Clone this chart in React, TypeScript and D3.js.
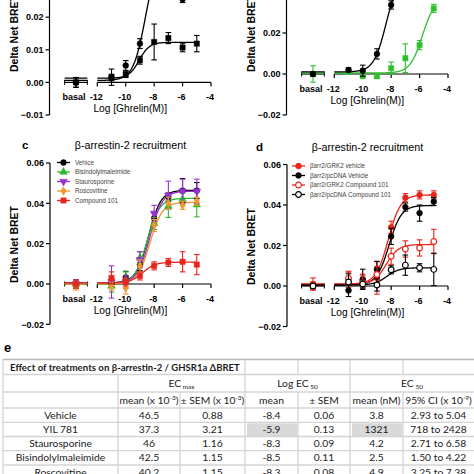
import { useEffect, useRef } from "react";
import * as d3 from "d3";

// ---- shared x values ----
const logDoses = [-11, -10, -9, -8, -7, -6, -5];
const BASAL = -13.5;
const xTicks = [-12, -10, -8, -6, -4];

// ---- panel a ----
const aCircleMean = [0.0015, 0.0052, 0.0119, 0.031, 0.036, 0.0255, 0.034];
const aCircleSem = [0.001, 0.0015, 0.0015, 0.003, 0.003, 0.001, 0.003];
const aSquareMean = [0.0016, 0.0025, 0.0068, 0.0124, 0.0136, 0.0107, 0.0119];
const aSquareSem = [0.0025, 0.001, 0.0012, 0.0055, 0.0017, 0.0013, 0.0025];
const aYTicks = [-0.01, 0, 0.01, 0.02];

// ---- panel b ----
const bBlackMean = [0.002, 0.0016, 0.0098, 0.0337, 0.045, 0.048, 0.047];
const bBlackSem = [0.001, 0.0027, 0.0025, 0.002, 0.003, 0.003, 0.003];
const bGreenMean = [0.001, -0.001, -0.001, 0.0028, 0.0077, 0.0141, 0.032];
const bGreenSem = [0.001, 0.001, 0.0012, 0.003, 0.007, 0.0022, 0.002];
const bYTicks = [-0.02, 0, 0.02];
const cdYTicks = [-0.02, 0, 0.02, 0.04, 0.06];

// ---- panel c ----
const cNames = [ "Vehice", "Bisindolylmaleimide", "Staurosporine", "Roscovitine", "Compound 101" ];
const cVehicleMean = [0.0005, 0.0033, 0.0096, 0.0327, 0.0431, 0.0463, 0.0463];
const cVehicleSem = [0.002, 0.003, 0.003, 0.003, 0.002, 0.006, 0.004];
const cBisMean = [-0.001, 0.002, 0.013, 0.03, 0.0385, 0.042, 0.0393];
const cBisSem = [0.003, 0.004, 0.003, 0.003, 0.0055, 0.003, 0.006];
const cStauroMean = [0.001, 0.001, 0.012, 0.035, 0.044, 0.046, 0.046];
const cStauroSem = [0.008, 0.003, 0.004, 0.004, 0.007, 0.006, 0.006];
const cRoscoMean = [-0.001, -0.002, 0.009, 0.029, 0.04, 0.039, 0.041];
const cRoscoSem = [0.002, 0.003, 0.003, 0.003, 0.003, 0.002, 0.002];
const cCmpMean = [0.003, 0.001, 0.004, 0.009, 0.0107, 0.011, 0.0096];
const cCmpSem = [0.003, 0.002, 0.002, 0.002, 0.002, 0.005, 0.005];

// ---- panel d ----
const dNames = [ "βarr2/GRK2 vehicle", "βarr2/pcDNA Vehicle", "βarr2/GRK2 Compound 101", "βarr2/pcDNA Compound 101" ];
const dGrkVehMean = [0.0033, 0.0028, 0.004, 0.029, 0.0436, 0.045, 0.045];
const dGrkVehSem = [0.004, 0.003, 0.008, 0.003, 0.002, 0.002, 0.002];
const dPcVehMean = [-0.0022, 0.0033, 0.0082, 0.0245, 0.039, 0.036, 0.0417];
const dPcVehSem = [0.003, 0.005, 0.004, 0.004, 0.002, 0.004, 0.002];
const dGrkCmpMean = [0.0038, 0.002, 0.0057, 0.0147, 0.0183, 0.0188, 0.022];
const dGrkCmpSem = [0.003, 0.003, 0.004, 0.004, 0.004, 0.004, 0.006];
const dPcCmpMean = [0.002, 0.001, 0.0005, 0.008, 0.0103, 0.009, 0.0082];
const dPcCmpSem = [0.004, 0.002, 0.003, 0.002, 0.005, 0.002, 0.008];

// ---- table e ----
const tableTitleA = "Effect of treatments on ";
const tableTitleB = "β-arrestin-2 / GHSR1a ΔBRET";
const tableRows = [ "Vehicle", "YIL 781", "Staurosporine", "Bisindolylmaleimide", "Roscovitine" ];
const emaxMean = [ "46.5", "37.3", "46", "42.5", "40.2" ];
const emaxSem = [ "0.88", "3.21", "1.16", "1.15", "1.15" ];
const logMean = [ "-8.4", "-5.9", "-8.3", "-8.5", "-8.3" ];
const logSem = [ "0.06", "0.13", "0.09", "0.11", "0.08" ];
const ecMean = [ "3.8", "1321", "4.2", "2.5", "4.9" ];
const ecCI = [ "2.93 to 5.04", "718 to 2428", "2.71 to 6.58", "1.50 to 4.22", "3.25 to 7.38" ];
const highlightRow = "YIL 781";

const ARIAL = "'Liberation Sans', Arial, sans-serif";
const CALIBRI = "Lato, 'Open Sans', sans-serif";

type Shape = "circle" | "square" | "triUp" | "triDown" | "diamond";
interface Series
{
    color: string;
    shape: Shape;
    open?: boolean;
    mean: number[];
    sem: number[];
    basal: [ number, number ];
    fit: [ number, number, number, number ]; // bottom, top, logEC50, hill
}

interface Panel
{
    xRange: [ number, number ];
    yAxisX: number;
    yDomain: [ number, number ];
    yRange: [ number, number ];
    yTicks: number[];
    labelBottom: number;
    labelX: number;
    series: Series[];
    title?: string;
    letter?: string;
    letterX?: number;
    legend?: string[];
    legendX?: number;
    legendY?: number;
}

const hill = ( f: Series[ "fit" ], x: number ) => f[ 0 ] + ( f[ 1 ] - f[ 0 ] ) / ( 1 + Math.pow( 10, ( f[ 2 ] - x ) * f[ 3 ] ) );

const symbolOf = ( s: Shape ) =>
    s === "circle" ? d3.symbolCircle : s === "square" ? d3.symbolSquare : s === "diamond" ? d3.symbolDiamond : d3.symbolTriangle;

function drawMarker ( g: any, s: Series, cx: number, cy: number )
{
    const size = s.shape === "circle" ? 26 : s.shape === "square" ? 28 : s.shape === "diamond" ? 22 : 26;
    const rot = s.shape === "triDown" ? 180 : 0;
    g.append( "path" ).attr( "d", d3.symbol( symbolOf( s.shape ), size )() as string )
        .attr( "transform", `translate(${ cx },${ cy }) rotate(${ rot })` )
        .attr( "fill", s.open ? "#fff" : s.color ).attr( "stroke", s.color ).attr( "stroke-width", s.open ? 1.2 : 0.5 );
}

function drawPanel ( svg: any, p: Panel )
{
    const x = d3.scaleLinear().domain( [ -12, -4 ] ).range( p.xRange );
    const y = d3.scaleLinear().domain( p.yDomain ).range( p.yRange );
    const g = svg.append( "g" );
    const y0 = y( 0 );

    // y axis
    g.append( "line" ).attr( "x1", p.yAxisX ).attr( "x2", p.yAxisX )
        .attr( "y1", y( p.yDomain[ 0 ] ) ).attr( "y2", y( p.yDomain[ 1 ] ) ).attr( "stroke", "#000" ).attr( "stroke-width", 1.2 );
    p.yTicks.forEach( ( t ) =>
    {
        g.append( "line" ).attr( "x1", p.yAxisX - 4 ).attr( "x2", p.yAxisX ).attr( "y1", y( t ) ).attr( "y2", y( t ) )
            .attr( "stroke", "#000" ).attr( "stroke-width", 1.2 );
        g.append( "text" ).attr( "x", p.yAxisX - 6 ).attr( "y", y( t ) + 3.2 ).attr( "text-anchor", "end" )
            .style( "font", `bold 9px ${ ARIAL }` ).text( d3.format( ".2f" )( t ) );
    } );

    // x axis: basal piece + main piece
    const axisSeg = ( a: number, b: number ) =>
        g.append( "line" ).attr( "x1", x( a ) ).attr( "x2", x( b ) ).attr( "y1", y0 ).attr( "y2", y0 )
            .attr( "stroke", "#000" ).attr( "stroke-width", 1.2 );
    axisSeg( -14.3, -12.7 );
    axisSeg( -12, -4 );
    [ -14.3, -12.7 ].forEach( ( t ) =>
        g.append( "line" ).attr( "x1", x( t ) ).attr( "x2", x( t ) ).attr( "y1", y0 - 2.5 ).attr( "y2", y0 + 2.5 ).attr( "stroke", "#000" ) );
    xTicks.forEach( ( t ) =>
    {
        g.append( "line" ).attr( "x1", x( t ) ).attr( "x2", x( t ) ).attr( "y1", y0 ).attr( "y2", y0 + 4 )
            .attr( "stroke", "#000" ).attr( "stroke-width", 1.2 );
        g.append( "text" ).attr( "x", x( t ) - 1 ).attr( "y", y0 + 18 ).attr( "text-anchor", "middle" )
            .style( "font", `bold 9px ${ ARIAL }` ).text( String( t ) );
    } );
    g.append( "text" ).attr( "x", x( BASAL ) - 2 ).attr( "y", y0 + 18 ).attr( "text-anchor", "middle" )
        .style( "font", `bold 9px ${ ARIAL }` ).text( "basal" );
    g.append( "text" ).attr( "x", ( p.yAxisX + x( -4 ) ) / 2 ).attr( "y", y0 + 30 ).attr( "text-anchor", "middle" )
        .style( "font", `10.2px ${ ARIAL }` ).text( "Log [Ghrelin(M)]" );

    // y label
    g.append( "text" ).attr( "transform", `translate(${ p.labelX },${ p.labelBottom }) rotate(-90)` )
        .attr( "text-anchor", "start" ).style( "font", `bold 10.5px ${ ARIAL }` ).text( "Delta Net BRET" );

    if ( p.title )
    {
        g.append( "text" ).attr( "x", ( p.yAxisX + x( -4 ) ) / 2 ).attr( "y", y( p.yDomain[ 1 ] ) - 14 ).attr( "text-anchor", "middle" )
            .style( "font", `10.7px ${ ARIAL }` ).text( p.title );
    }
    if ( p.letter )
    {
        g.append( "text" ).attr( "x", p.letterX! ).attr( "y", y( p.yDomain[ 1 ] ) - 14 )
            .style( "font", `bold 11.5px ${ ARIAL }` ).text( p.letter );
    }

    const line = d3.line<number>().x( ( d ) => x( d ) );

    // curves, then error bars + markers
    p.series.forEach( ( s ) =>
    {
        line.y( ( d ) => y( hill( s.fit, d ) ) );
        [ d3.range( -14.3, -12.69, 0.1 ), d3.range( -12, -4.99, 0.02 ) ].forEach( ( xs ) =>
            g.append( "path" ).attr( "d", line( xs ) ).attr( "fill", "none" ).attr( "stroke", s.color ).attr( "stroke-width", 1.3 ) );
    } );

    p.series.forEach( ( s ) =>
    {
        const pts = logDoses.map( ( d, i ) => ( { d, m: s.mean[ i ], e: s.sem[ i ] } ) );
        pts.push( { d: BASAL, m: s.basal[ 0 ], e: s.basal[ 1 ] } );
        pts.forEach( ( pt ) =>
        {
            const cx = x( pt.d );
            g.append( "line" ).attr( "x1", cx ).attr( "x2", cx ).attr( "y1", y( pt.m - pt.e ) ).attr( "y2", y( pt.m + pt.e ) )
                .attr( "stroke", s.color ).attr( "stroke-width", 1.1 );
            [ pt.m - pt.e, pt.m + pt.e ].forEach( ( v ) =>
                g.append( "line" ).attr( "x1", cx - 2.8 ).attr( "x2", cx + 2.8 ).attr( "y1", y( v ) ).attr( "y2", y( v ) )
                    .attr( "stroke", s.color ).attr( "stroke-width", 1.1 ) );
            drawMarker( g, s, cx, y( pt.m ) );
        } );
    } );

    if ( p.legend )
    {
        p.legend.forEach( ( name, i ) =>
        {
            const s = p.series[ i ];
            const ly = p.legendY! + i * 9.5;
            g.append( "line" ).attr( "x1", p.legendX! ).attr( "x2", p.legendX! + 13 ).attr( "y1", ly ).attr( "y2", ly )
                .attr( "stroke", s.color ).attr( "stroke-width", 1.3 );
            drawMarker( g, s, p.legendX! + 6.5, ly );
            g.append( "text" ).attr( "x", p.legendX! + 18 ).attr( "y", ly + 2.2 ).attr( "fill", "#444" )
                .style( "font", `6.3px ${ ARIAL }` ).text( name );
        } );
    }
}

function drawTable ( svg: any )
{
    const cols = [ 3, 118, 180, 245, 298, 350, 403, 480 ];
    const rows = [ 359.5, 374.5, 392, 408, 422.3, 436.5, 450.7, 465, 479.2 ];
    const g = svg.append( "g" );
    const grid = "#d4d4d4";
    const cx = ( i: number ) => ( cols[ i ] + cols[ i + 1 ] ) / 2;
    const cy = ( r: number ) => ( rows[ r ] + rows[ r + 1 ] ) / 2 + 3.6;

    // highlights
    const hr = tableRows.indexOf( highlightRow ) + 3;
    [ 3, 5 ].forEach( ( c ) =>
        g.append( "rect" ).attr( "x", cols[ c ] + 2 ).attr( "y", rows[ hr ] + 1 ).attr( "width", cols[ c + 1 ] - cols[ c ] - 3 )
            .attr( "height", rows[ hr + 1 ] - rows[ hr ] - 1.5 ).attr( "fill", "#d9d9d9" ) );

    // horizontal lines
    rows.forEach( ( r, i ) =>
        g.append( "line" ).attr( "x1", cols[ 0 ] ).attr( "x2", 480 ).attr( "y1", r ).attr( "y2", r )
            .attr( "stroke", i === 0 ? "#b8b8b8" : grid ).attr( "stroke-width", 1.3 ) );
    // vertical lines
    const vline = ( xv: number, r0: number, r1: number ) =>
        g.append( "line" ).attr( "x1", xv ).attr( "x2", xv ).attr( "y1", rows[ r0 ] ).attr( "y2", rows[ r1 ] )
            .attr( "stroke", grid ).attr( "stroke-width", 1.3 );
    vline( cols[ 0 ], 0, 8 );
    vline( cols[ 1 ], 1, 8 );
    vline( cols[ 2 ], 2, 8 );
    vline( cols[ 3 ], 0, 8 );
    vline( cols[ 4 ], 0, 1 );
    vline( cols[ 4 ], 2, 8 );
    vline( cols[ 5 ], 0, 8 );
    vline( cols[ 6 ], 0, 1 );
    vline( cols[ 6 ], 2, 8 );

    const txt = ( xv: number, yv: number, anchor = "middle", weight = "normal" ) =>
        g.append( "text" ).attr( "x", xv ).attr( "y", yv ).attr( "text-anchor", anchor ).attr( "fill", "#1a1a1a" )
            .style( "font", `${ weight } 10.3px ${ CALIBRI }` );

    const title = txt( 10, cy( 0 ), "start", "bold" ).style( "font-size", "9.7px" );
    title.append( "tspan" ).text( tableTitleA );
    title.append( "tspan" ).attr( "textLength", 128 ).attr( "lengthAdjust", "spacingAndGlyphs" ).text( tableTitleB );

    // merged headers with subscripts
    const sub = ( t: any, main: string, s: string ) =>
    {
        t.append( "tspan" ).text( main );
        t.append( "tspan" ).attr( "dy", 2.5 ).style( "font-size", "6.5px" ).text( s );
    };
    sub( txt( ( cols[ 1 ] + cols[ 3 ] ) / 2, cy( 1 ) ), "EC", " max" );
    sub( txt( ( cols[ 3 ] + cols[ 5 ] ) / 2, cy( 1 ) ), "Log EC", " 50" );
    sub( txt( ( cols[ 5 ] + cols[ 7 ] ) / 2 - 3, cy( 1 ) ), "EC", " 50" );

    const sup = ( t: any, main: string, s: string, tail: string ) =>
    {
        t.append( "tspan" ).text( main );
        t.append( "tspan" ).attr( "dy", -4 ).style( "font-size", "6.5px" ).text( s );
        t.append( "tspan" ).attr( "dy", 4 ).text( tail );
    };
    sup( txt( cx( 1 ), cy( 2 ) ), "mean (x 10", "-3", ")" );
    sup( txt( cx( 2 ), cy( 2 ) ), "± SEM (x 10", "-3", ")" );
    txt( cx( 3 ), cy( 2 ) ).text( "mean" );
    txt( cx( 4 ), cy( 2 ) ).text( "± SEM" );
    txt( cx( 5 ), cy( 2 ) ).text( "mean (nM)" );
    sup( txt( cx( 6 ) - 3, cy( 2 ) ), "95% CI (x 10", "-9", ")" );

    const columns = [ tableRows, emaxMean, emaxSem, logMean, logSem, ecMean, ecCI ];
    tableRows.forEach( ( _, r ) =>
        columns.forEach( ( col, c ) =>
            txt( c === 6 ? cx( c ) - 3 : cx( c ), cy( r + 3 ) ).text( col[ r ] ) ) );
}

export default function App ()
{
    const svgRef = useRef<SVGSVGElement>( null );

    useEffect( () =>
    {
        if ( !svgRef.current ) return;
        const svg = d3.select( svgRef.current );
        svg.selectAll( "*" ).remove();
        svg.append( "rect" ).attr( "width", 474 ).attr( "height", 474 ).attr( "fill", "#fff" );

        const black = "#000";
        const green = "#2fbf2f";
        const red = "#e8241c";

        const panels: Panel[] = [
            {
                xRange: [ 97.3, 211 ], yAxisX: 49.5, yDomain: [ -0.01, 0.05 ], yRange: [ 115, -80.6 ], yTicks: aYTicks,
                labelBottom: 72, labelX: 18,
                series: [
                    { color: black, shape: "square", mean: aSquareMean, sem: aSquareSem, basal: [ 0, 0.0015 ], fit: [ 0.0013, 0.0123, -9.05, 1.2 ] },
                    { color: black, shape: "circle", mean: aCircleMean, sem: aCircleSem, basal: [ 0, 0.0015 ], fit: [ 0.0006, 0.04, -8.6, 1 ] },
                ],
            },
            {
                xRange: [ 334.3, 448 ], yAxisX: 286.5, yDomain: [ -0.02, 0.06 ], yRange: [ 115, -49 ], yTicks: bYTicks,
                labelBottom: 72, labelX: 255,
                series: [
                    { color: green, shape: "square", mean: bGreenMean, sem: bGreenSem, basal: [ 0, 0.004 ], fit: [ 0.0005, 0.037, -5.8, 1 ] },
                    { color: black, shape: "circle", mean: bBlackMean, sem: bBlackSem, basal: [ 0, 0.001 ], fit: [ 0.001, 0.048, -8.36, 1 ] },
                ],
            },
            {
                xRange: [ 97.3, 211 ], yAxisX: 50, yDomain: [ -0.02, 0.06 ], yRange: [ 324.3, 163 ], yTicks: cdYTicks,
                labelBottom: 283, labelX: 18, title: "β-arrestin-2 recruitment", letter: "c", letterX: 22,
                legend: cNames, legendX: 57, legendY: 162.5,
                series: [
                    { color: black, shape: "circle", mean: cVehicleMean, sem: cVehicleSem, basal: [ 0, 0.002 ], fit: [ 0.0005, 0.0465, -8.4, 1 ] },
                    { color: "#2db82d", shape: "triUp", mean: cBisMean, sem: cBisSem, basal: [ 0, 0.002 ], fit: [ 0, 0.0425, -8.5, 1 ] },
                    { color: "#9b30d0", shape: "triDown", mean: cStauroMean, sem: cStauroSem, basal: [ 0, 0.002 ], fit: [ 0.0005, 0.046, -8.3, 1 ] },
                    { color: "#f0962a", shape: "diamond", mean: cRoscoMean, sem: cRoscoSem, basal: [ -0.001, 0.002 ], fit: [ 0, 0.0405, -8.3, 1 ] },
                    { color: red, shape: "square", mean: cCmpMean, sem: cCmpSem, basal: [ 0, 0.002 ], fit: [ 0.0005, 0.0108, -8.8, 1 ] },
                ],
            },
            {
                xRange: [ 334.3, 448 ], yAxisX: 287, yDomain: [ -0.02, 0.06 ], yRange: [ 326.5, 164.5 ], yTicks: cdYTicks,
                labelBottom: 285, labelX: 255, title: "β-arrestin-2 recruitment", letter: "d", letterX: 256,
                legend: dNames, legendX: 292, legendY: 166,
                series: [
                    { color: red, shape: "circle", mean: dGrkVehMean, sem: dGrkVehSem, basal: [ 0.001, 0.003 ], fit: [ 0.001, 0.045, -8.2, 1 ] },
                    { color: black, shape: "circle", mean: dPcVehMean, sem: dPcVehSem, basal: [ 0, 0.001 ], fit: [ 0.0005, 0.0398, -8.15, 1 ] },
                    { color: red, shape: "circle", open: true, mean: dGrkCmpMean, sem: dGrkCmpSem, basal: [ 0, 0.002 ], fit: [ 0.0008, 0.0205, -8.35, 1 ] },
                    { color: black, shape: "circle", open: true, mean: dPcCmpMean, sem: dPcCmpSem, basal: [ 0, 0.001 ], fit: [ 0.0005, 0.009, -8.3, 1 ] },
                ],
            },
        ];
        panels.forEach( ( p ) => drawPanel( svg, p ) );

        svg.append( "text" ).attr( "x", 4 ).attr( "y", 352 ).style( "font", `bold 13px ${ ARIAL }` ).text( "e" );
        drawTable( svg );
    }, [] );

    return (
        <div style={ { position: "absolute", left: 0, top: 0, width: 474, height: 474, overflow: "hidden" } }>
            <svg ref={ svgRef } width={ 474 } height={ 474 } style={ { display: "block" } } />
        </div>
    );
}
